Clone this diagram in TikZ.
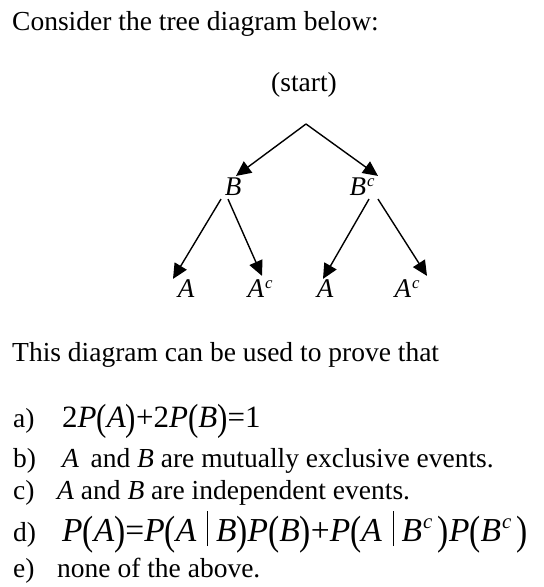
\documentclass[tikz,border=0pt]{standalone}
\usepackage{fontspec}
\setmainfont{Liberation Serif}
\usetikzlibrary{arrows.meta,positioning}
\tikzset{
  >={Triangle[length=15pt,width=14pt]},
  txt/.style={anchor=base west, inner sep=0pt, font=\fontsize{27.5}{30}\selectfont},
  mth/.style={anchor=base west, inner sep=0pt, font=\fontsize{33.5}{36}\selectfont\itshape},
  lbl/.style={inner sep=0pt, font=\fontsize{27}{30}\selectfont\itshape},
  br/.style={->, line width=1.4pt, black},
}
\newcommand{\cmp}[1]{#1\kern1pt\raisebox{0.36em}{\scalebox{0.62}{\itshape c}}}
\newcommand{\lp}{\raisebox{-0.1em}{\upshape\scalebox{1}[1.22]{(}}}
\newcommand{\rp}{\raisebox{-0.1em}{\upshape\scalebox{1}[1.22]{)}}}
\newcommand{\gv}{\hspace{0.32em}\raisebox{-0.15em}{\rule{0.6pt}{1.05em}}\hspace{0.25em}}
\begin{document}
\begin{tikzpicture}[x=1pt,y=-1pt]
        \useasboundingbox[fill=white] (0,0) rectangle (544,587);
        \node[txt] (intro) at (12,30){Consider the tree diagram below:};
        % tree
        \node[inner sep=0pt,font=\fontsize{27.5}{30}\selectfont] (start) at (304,85){(start)};
        \coordinate (top) at (306,124);
        \node[lbl] (b) at (233,187){B};
        \node[lbl] (bc) at (362,187){\cmp{B}};
        \node[lbl] (a1) at (186,289){A};
        \node[lbl] (a1c) at (260,289){\cmp{A}};
        \node[lbl] (a2) at (325,289){A};
        \node[lbl] (a2c) at (407,289){\cmp{A}};
        \draw[br](top)--([xshift=3pt,yshift=2pt]b.north);\draw[br](top)--([xshift=16pt,yshift=2pt]bc.north);
        \draw[br]([xshift=-12pt,yshift=-3pt]b.south)--([xshift=-13pt,yshift=1pt]a1.north);
        \draw[br]([xshift=-5pt,yshift=-3pt]b.south)--([xshift=2pt,yshift=4pt]a1c.north);
        \draw[br]([xshift=7pt,yshift=-3pt]bc.south)--([xshift=-2pt,yshift=1pt]a2.north);
        \draw[br]([xshift=16pt,yshift=-3pt]bc.south)--([xshift=20pt,yshift=4pt]a2c.north);
        % question
        \node[txt] (ask) at (12,361){This diagram can be used to prove that};
        \node[txt] (oa) at (13,427){a)};
        \node[mth,font=\fontsize{31}{34}\selectfont\itshape] (ma) at (62,427){\upshape2\itshape P\lp A\rp\upshape+2\itshape P\lp B\rp\upshape=1};
        \node[txt] (ob) at (13,467){b)};
        \node[txt] (tb) at (62,467){\textit{A}\, and \textit{B} are mutually exclusive events.};
        \node[txt] (oc) at (13,499){c)};
        \node[txt] (tc) at (57,499){\textit{A} and \textit{B} are independent events.};
        \node[txt] (od) at (13,541){d)};
        \node[mth] (md) at (62,541){P\lp A\rp\upshape=\itshape P\lp A\gv B\rp P\lp B\rp\upshape+\itshape P\lp A\gv\cmp{B}\,\rp P\lp\cmp{B}\,\rp};
        \node[txt] (oe) at (13,577){e)};
        \node[txt] (te) at (57,577){none of the above.};
      \end{tikzpicture}
\end{document}
